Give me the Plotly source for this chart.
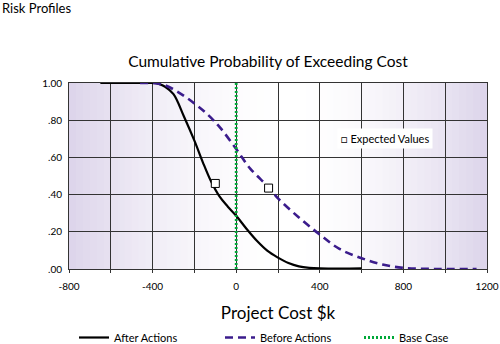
import plotly.graph_objects as go

# ---- data ----
after_x = [-650, -500, -400, -370, -340, -300, -250, -200, -160, -120, -80, -40, 0, 50, 100, 150, 200, 250, 300, 350, 400, 500, 600]
after_y = [1.0, 1.0, 1.0, 0.995, 0.98, 0.94, 0.82, 0.69, 0.575, 0.47, 0.39, 0.335, 0.286, 0.215, 0.15, 0.097, 0.061, 0.032, 0.014, 0.006, 0.003, 0.002, 0.003]

before_x = [-460, -400, -347, -283, -200, -136, -77, 0, 67, 155, 200, 300, 400, 494, 600, 700, 800, 900, 1000, 1150]
before_y = [1.0, 1.0, 0.99, 0.955, 0.89, 0.83, 0.76, 0.645, 0.54, 0.44, 0.38, 0.277, 0.185, 0.108, 0.058, 0.024, 0.006, 0.001, 0.0, 0.0]

base_case_x = [0, 0]
base_case_y = [0.0, 1.0]

expected_x = [-100, 155]
expected_y = [0.46, 0.435]

x_tickvals = [-800, -600, -400, -200, 0, 200, 400, 600, 800, 1000, 1200]
x_ticktext = ["-800", "", "-400", "", "0", "", "400", "", "800", "", "1200"]
y_tickvals = [0.0, 0.2, 0.4, 0.6, 0.8, 1.0]
y_ticktext = [".00", ".20", ".40", ".60", ".80", "1.00"]

FONT = "Lato, sans-serif"

fig = go.Figure()

# background gradient (styling only)
n = 60
edge = (220, 212, 234)
center_frac = 0.53
shapes = []
for i in range(n):
    x0 = i / n
    x1 = (i + 1) / n
    xm = (x0 + x1) / 2
    d = abs(xm - center_frac) / (center_frac if xm < center_frac else 1 - center_frac)
    t = min(1.0, d) ** 1.8
    c = tuple(round(255 + (e - 255) * t) for e in edge)
    shapes.append(dict(type="rect", xref="x domain", yref="y domain", x0=x0, x1=x1 + 0.002, y0=0, y1=1,
                       fillcolor=f"rgb{c}", line_width=0, layer="below"))

fig.add_trace(go.Scatter(x=after_x, y=after_y, mode="lines", name="After Actions", legend="legend",
                         line=dict(color="black", width=2.2, shape="spline", smoothing=1.0)))
fig.add_trace(go.Scatter(x=before_x, y=before_y, mode="lines", name="Before Actions", legend="legend2",
                         line=dict(color="#3b1c8c", width=2.6, dash="8px,5px", shape="spline", smoothing=1.0)))
fig.add_trace(go.Scatter(x=base_case_x, y=base_case_y, mode="lines", name="Base Case", legend="legend3",
                         line=dict(color="#00a838", width=2.8, dash="2px,2px")))
fig.add_trace(go.Scatter(x=expected_x, y=expected_y, mode="markers", name="Expected Values",
                         showlegend=False,
                         marker=dict(symbol="square", size=8, color="white",
                                     line=dict(color="black", width=1))))

legend_common = dict(orientation="h", xref="container", yref="container", xanchor="left",
                     y=1 - 323 / 344, yanchor="top", font=dict(size=11, family=FONT),
                     bgcolor="rgba(0,0,0,0)")

fig.update_layout(
    width=500, height=344,
    margin=dict(l=69, r=13, t=83, b=75, autoexpand=False),
    paper_bgcolor="white", plot_bgcolor="white",
    shapes=shapes,
    font=dict(family=FONT, color="black"),
    title=dict(text="Cumulative Probability of Exceeding Cost", x=0.536, xanchor="center",
               y=1 - 62 / 344, yanchor="middle", font=dict(size=15.5, family=FONT, color="black")),
    showlegend=True,
    legend=dict(x=74 / 500, **legend_common),
    legend2=dict(x=220 / 500, **legend_common),
    legend3=dict(x=359 / 500, **legend_common),
    annotations=[
        dict(text="Risk Profiles", xref="paper", yref="paper", x=-69 / 418, y=1 + (83 - 8) / 186,
             xanchor="left", yanchor="middle", showarrow=False, font=dict(size=13, family=FONT)),
        dict(text="\u25a1 Expected Values", xref="x", yref="y", x=712, y=0.70,
             xanchor="center", yanchor="middle", showarrow=False, bgcolor="white",
             borderpad=3, font=dict(size=11, family=FONT)),
    ],
)
fig.update_xaxes(range=[-800, 1200], tickvals=x_tickvals, ticktext=x_ticktext,
                 showgrid=True, gridcolor="#333333", gridwidth=1,
                 showline=True, linecolor="#333333", linewidth=1, mirror=True,
                 ticks="outside", ticklen=3, tickcolor="#333333", automargin=False,
                 ticklabelstandoff=5,
                 tickfont=dict(size=10, family=FONT), zeroline=False,
                 title=dict(text="Project Cost $k", font=dict(size=17, family=FONT), standoff=18))
fig.update_yaxes(range=[0, 1], tickvals=y_tickvals, ticktext=y_ticktext,
                 showgrid=True, gridcolor="#333333", gridwidth=1,
                 showline=True, linecolor="#333333", linewidth=1, mirror=True, automargin=False,
                 ticklabelstandoff=4,
                 ticks="", tickfont=dict(size=10, family=FONT), zeroline=False)

fig.write_html("out.html")
